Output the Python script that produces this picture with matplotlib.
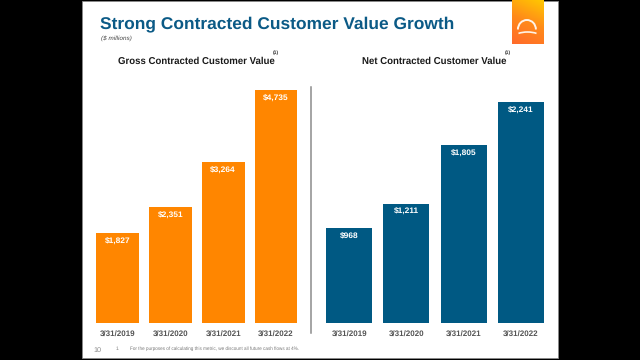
import numpy as np
import matplotlib
matplotlib.use("Agg")
import matplotlib.pyplot as plt
from matplotlib.patches import Rectangle, Arc
from matplotlib.colors import LinearSegmentedColormap

plt.rcParams['font.family'] = ['Liberation Sans', 'DejaVu Sans']
plt.rcParams['text.hinting'] = 'no_hinting'
plt.rcParams['text.hinting_factor'] = 8

dates = ["3/31/2019", "3/31/2020", "3/31/2021", "3/31/2022"]
gross_values = [1827, 2351, 3264, 4735]
net_values = [968, 1211, 1805, 2241]
title = "Strong Contracted Customer Value Growth"
subtitle = "($ millions)"
gross_title = "Gross Contracted Customer Value"
net_title = "Net Contracted Customer Value"
footnote = "For the purposes of calculating this metric, we discount all future cash flows at 4%."

W, H = 640, 360
ORANGE = "#FF8600"
BLUE = "#005983"
TITLE_BLUE = "#0B5A86"

fig = plt.figure(figsize=(W / 100, H / 100), dpi=100, facecolor="black")


def px_axes(x0, y0, x1, y1):
    return fig.add_axes([x0 / W, 1 - y1 / H, (x1 - x0) / W, (y1 - y0) / H])


def ftext(x, y, s, **kw):
    return fig.text(x / W, 1 - y / H, s, **kw)


fig.add_artist(Rectangle((82 / W, 1 - 358 / H), 476 / W, 357 / H, transform=fig.transFigure,
                         facecolor="white", edgecolor="#8a8a8a", linewidth=0.6, zorder=-5))
fig.add_artist(plt.Line2D([310.5 / W] * 2, [1 - 87 / H, 1 - 333 / H], color="#8c8c8c", lw=1.1))


def bars(rect, values, color, ymax, width):
    ax = px_axes(*rect)
    ax.patch.set_alpha(0)
    xs = np.arange(len(values))
    ax.bar(xs, values, width=width, color=color)
    ax.set_xlim(-0.5, len(values) - 0.5)
    ax.set_ylim(0, ymax)
    ax.set_yticks([])
    ax.set_xticks(xs, dates, fontsize=5.8, fontweight="bold", color="#555555")
    ax.tick_params(axis="x", length=0, pad=4.8)
    for s in ax.spines.values():
        s.set_visible(False)
    for x, v in zip(xs, values):
        ax.annotate(f"${v:,}", (x, v), xytext=(0, -6), textcoords="offset points",
                    ha="center", va="center", color="white", fontsize=6.0, fontweight="bold")
    return ax


bars((91, 84, 302.5, 323), gross_values, ORANGE, 4735 * 239 / 233, 0.81)
bars((320.5, 84, 549.5, 323), net_values, BLUE, 2241 * 239 / 220.7, 0.80)

ftext(100, 24.5, title, fontsize=12.55, fontweight="bold", color=TITLE_BLUE, ha="left", va="center")
ftext(101, 38.5, subtitle, fontsize=4.6, style="italic", color="#444444", ha="left", va="center")
ftext(196, 61, gross_title, fontsize=6.95, fontweight="bold", color="#1a1a1a", ha="center", va="center")
ftext(276, 52.5, "(1)", fontsize=3.6, fontweight="bold", color="#333333", ha="center", va="center")
ftext(434.7, 61, net_title, fontsize=6.9, fontweight="bold", color="#1a1a1a", ha="center", va="center")
ftext(507.5, 52.5, "(1)", fontsize=3.6, fontweight="bold", color="#333333", ha="center", va="center")
ftext(97, 350.5, "10", fontsize=5.2, color="#8a8a8a", ha="center", va="center")
ftext(118, 348.5, "1.", fontsize=3.4, color="#777777", ha="center", va="center")
ftext(130, 348.5, footnote, fontsize=3.35, color="#777777", ha="left", va="center")

logo = px_axes(511.7, 0, 543.7, 44)
cmap = LinearSegmentedColormap.from_list("logo", ["#FF6A2B", "#FF8A1A", "#FFC800"])
gx, gy = np.meshgrid(np.linspace(0, 1, 64), np.linspace(0, 1, 64))
logo.imshow(0.25 * gx + 0.75 * gy, origin="lower", aspect="auto", cmap=cmap,
            extent=(0, 32, 44, 0))
logo.set_xlim(0, 32)
logo.set_ylim(44, 0)
logo.add_patch(Arc((15.2, 29.5), 18, 19, theta1=180, theta2=360, color="#FFF3E6", lw=1.4))
logo.add_patch(Arc((15.8, 38), 28, 12, theta1=207, theta2=333, color="#FFF3E6", lw=1.2))
logo.axis("off")

fig.savefig("out.png", dpi=100, facecolor="black")
